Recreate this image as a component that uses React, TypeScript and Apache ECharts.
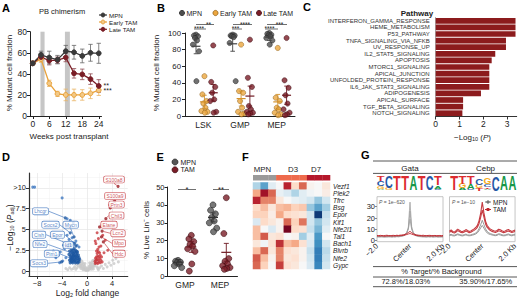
import React, { useEffect, useRef } from 'react';
import * as echarts from 'echarts';

const FONT = '"Liberation Sans", Arial, Helvetica, sans-serif';
const INK = '#222222';

// ---------- A: PB chimerism ----------
const aWeeks = [0, 3, 6, 9, 12, 15, 18, 21, 24];
const aMPN = [50, 58, 55.5, 53.5, 61.5, 60.5, 57, 60, 59.5];
const aMPNErr = [0.8, 3.5, 6, 4, 5.5, 6.5, 6.5, 8, 9.5];
const aEarly = [50, 54, 31, 21, 20, 20, 20, 21.5, 24.5];
const aEarlyErr = [0.8, 3, 3, 2.5, 5.5, 5.5, 5, 5, 5];
const aLate = [50, 56, 52.5, 53, 55.5, 40.5, 39.5, 35, 28.5];
const aLateErr = [0.8, 3, 4, 3, 4, 4.5, 5, 5, 6];
const aTamStart = [2.8, 11.7];
const aTamEnd = [4.3, 13.5];
const aXTicks = [0, 6, 12, 18, 24];

// ---------- B: compartments ----------
const bCats = ['LSK', 'GMP', 'MEP'];
const bMPN = [
  [98, 97, 96, 94, 91, 86, 78, 42],
  [98, 97, 97, 96, 95, 88, 42],
  [100, 99, 98, 97, 96, 94, 91, 86],
];
const bEarly = [
  [48, 26, 18, 15, 10, 6, 5, 4],
  [86, 30, 28, 18, 10, 5, 3, 2],
  [82, 22, 18, 10, 8, 4, 2, 1],
];
const bLate = [
  [85, 41, 35, 28, 20, 18, 5, 4],
  [92, 46, 35, 12, 8, 5, 4, 3, 2],
  [94, 43, 34, 25, 15, 8, 4, 2, 1],
];
const bMPNMean = [84, 87, 95];
const bMPNErr = [9, 9, 4];
const bEarlyMean = [17, 21, 17];
const bEarlyErr = [8, 9, 9];
const bLateMean = [28, 24, 25];
const bLateErr = [10, 12, 11];

// ---------- C: pathways ----------
const cPathways = [
  'INTERFERON_GAMMA_RESPONSE', 'HEME_METABOLISM', 'P53_PATHWAY', 'TNFA_SIGNALING_VIA_NFKB',
  'UV_RESPONSE_UP', 'IL2_STAT5_SIGNALING', 'APOPTOSIS', 'MTORC1_SIGNALING', 'APICAL_JUNCTION',
  'UNFOLDED_PROTEIN_RESPONSE', 'IL6_JAK_STAT3_SIGNALING', 'ADIPOGENESIS', 'APICAL_SURFACE',
  'TGF_BETA_SIGNALING', 'NOTCH_SIGNALING',
];
const cLogP = [3.35, 3.35, 3.35, 2.95, 2.95, 2.5, 2.35, 2.25, 2.25, 2.25, 2.25, 1.9, 1.15, 1.15, 1.12];
const cTicks = [0, 1, 2, 3];

// ---------- D: volcano ----------
const volcGray = [
  [-0.1, 0.05], [0.1, 0.08], [0.2, 0.15], [-0.3, 0.12], [0.35, 0.2], [-0.45, 0.25], [0.5, 0.3], [-0.6, 0.35],
  [0.65, 0.4], [-0.75, 0.3], [0.8, 0.5], [-0.9, 0.55], [0.95, 0.45], [-1.0, 0.7], [1.05, 0.65], [-1.1, 0.5],
  [1.15, 0.8], [-1.2, 0.85], [1.25, 0.6], [-1.3, 0.9], [1.3, 0.95], [-1.4, 0.6], [1.4, 1.1], [-1.5, 1.0],
  [-0.2, 0.3], [0.25, 0.4], [-0.5, 0.5], [0.55, 0.6], [-0.8, 0.7], [0.85, 0.8], [-1.0, 0.3], [1.0, 0.25],
  [-0.65, 0.15], [0.7, 0.2], [-1.6, 0.4], [1.6, 0.5], [-1.7, 0.8], [1.7, 0.3], [-1.8, 0.2], [1.8, 0.15],
  [-2.0, 0.5], [2.0, 0.4], [-2.2, 0.3], [2.3, 0.6], [-2.5, 0.2], [2.6, 0.3], [-2.8, 0.4], [2.9, 0.8],
  [-3.1, 0.15], [3.2, 0.5], [3.5, 1.0], [3.8, 0.7], [4.1, 1.3], [4.3, 0.9], [4.6, 1.5], [5.0, 1.1],
  [-3.4, 0.3], [-0.4, 0.6], [0.45, 0.7], [-0.9, 0.9], [1.1, 1.2], [-1.15, 1.15], [1.2, 1.35], [-1.3, 1.25],
  [0.0, 0.2], [-0.15, 0.4], [0.3, 0.55], [-0.55, 0.8], [0.6, 0.9], [-0.7, 1.0], [0.75, 1.05], [-1.45, 1.35],
  [1.5, 1.4], [-1.6, 1.2], [1.65, 1.0], [-0.35, 0.9], [0.4, 1.0], [-0.85, 1.2], [0.9, 1.25],
];
const volcBlueCore = [
  [-2.7, 1.0], [-2.5, 1.1], [-2.3, 1.0], [-2.1, 1.2], [-1.9, 1.0], [-1.7, 1.1], [-1.5, 1.0], [-1.3, 1.1],
  [-2.6, 1.4], [-2.4, 1.5], [-2.2, 1.4], [-2.0, 1.6], [-1.8, 1.4], [-1.6, 1.5], [-1.4, 1.3], [-2.7, 1.8],
  [-2.5, 1.9], [-2.3, 1.7], [-2.1, 1.9], [-1.9, 1.8], [-1.7, 1.9], [-1.5, 1.7], [-2.6, 2.2], [-2.4, 2.3],
  [-2.2, 2.1], [-2.0, 2.3], [-1.8, 2.2], [-1.6, 2.1], [-2.5, 2.6], [-2.3, 2.5], [-2.1, 2.7], [-1.9, 2.5],
  [-1.7, 2.4], [-2.8, 1.3], [-2.9, 2.0], [-1.2, 1.4], [-1.4, 1.9], [-1.3, 1.6], [-1.55, 2.3], [-2.8, 2.4],
  [-2.0, 1.3], [-2.4, 1.2], [-1.8, 1.7], [-2.2, 1.8], [-2.6, 1.6],
];
const volcBlueSpread = [
  [-3.0, 2.9], [-2.7, 3.2], [-3.3, 3.0], [-2.2, 3.4], [-1.6, 3.1], [-1.3, 2.9], [-3.6, 2.7], [-3.8, 3.1],
  [-2.9, 3.8], [-2.4, 4.0], [-1.8, 3.6], [-3.2, 4.3], [-2.6, 5.4], [-2.2, 5.8], [-3.2, 6.3], [-2.7, 6.1],
  [-4.0, 8.8], [-8.7, 10.1], [-8.4, 10.1], [-4.3, 2.3], [-4.6, 1.9], [-5.0, 1.6], [-3.9, 1.2], [-3.4, 1.6],
  [-4.4, 1.0], [-5.4, 2.4],
];
const volcRed = [
  [1.3, 0.9], [1.5, 1.0], [1.7, 0.9], [1.9, 1.1], [2.1, 1.0], [1.4, 1.3], [1.6, 1.4], [1.8, 1.3],
  [2.0, 1.5], [2.2, 1.3], [1.5, 1.7], [1.7, 1.8], [1.9, 1.7], [2.1, 1.9], [1.6, 2.1], [1.8, 2.3],
  [2.0, 2.2], [1.7, 2.6], [1.9, 2.9], [1.5, 2.4], [2.3, 1.7], [2.4, 1.1], [1.35, 1.55], [1.25, 1.15],
  [1.8, 3.9], [2.9, 3.7], [2.5, 4.3], [1.6, 4.6], [1.4, 3.3], [2.2, 3.0], [3.3, 2.5], [2.7, 2.2], [1.3, 3.6],
];
const volcBlueNames = ['Lhcgr', 'Socs2', 'Mycn', 'Cish', 'Epor', 'Nfe2', 'Id1', 'Pim1', 'Socs3'];
const volcBlueLab = [[-3.5, 6.4], [-2.7, 4.6], [-2.1, 4.1], [-2.5, 3.1], [-2.0, 3.3], [-2.2, 2.1], [-1.8, 3.0], [-2.5, 1.5], [-4.1, 1.1]];
const volcRedNames = ['S100a8', 'S100a9', 'Prtn3', 'Chil3', 'Elane', 'Lcn2', 'Mpo', 'Hdc'];
const volcRedLab = [[4.95, 10.2], [4.4, 8.4], [3.7, 7.6], [3.0, 6.3], [2.0, 5.3], [2.4, 4.8], [2.3, 4.1], [2.6, 3.5]];
const dXTicks = [-8, -4, 0, 4];
const dXMinor = [-6, -2, 2, 6];
const dYTicks = [0, 2.5, 5, 7.5, 10];
const dYMinor = [1.25, 3.75, 6.25, 8.75, 11.25];

// ---------- E: Lin- cells ----------
const eCats = ['GMP', 'MEP'];
const eMPN = [[9, 8.5, 8, 7.6, 7, 6, 5], [40, 37, 35, 33, 31, 30, 27, 25]];
const eTAM = [[23, 21, 19.5, 18, 17, 15.5, 14, 7, 3], [44, 24, 10, 8.5, 7, 6, 5, 4.5, 4]];
const eMPNMean = [8, 33];
const eMPNErr = [1.5, 2.5];
const eTAMMean = [16.5, 13.5];
const eTAMErr = [3, 5];

// ---------- F: heatmap ----------
const fGenes = ['Vezf1', 'Plek2', 'Tfrc', 'Bsg', 'Epor', 'Klf1', 'Nfe2l1', 'Tal1', 'Bach1', 'Blvrb', 'Nfe2', 'Gypc'];
const fGroups = ['MPN', 'MPN', 'MPN', 'D3', 'D3', 'D3', 'D3', 'D7', 'D7', 'D7'];
const fZ = [
  [-0.8, -1.4, -0.3, 0.0, 2.0, 0.5, 1.5, 0.1, 0.0, 0.3],
  [1.0, 2.2, 1.5, -0.2, -0.4, -0.8, -0.3, -0.1, 0.0, 0.2],
  [2.0, 1.3, 1.3, 0.3, 0.0, -0.2, -0.3, -0.5, -1.0, -0.5],
  [0.5, 0.8, 0.3, 0.8, 0.9, 0.6, 0.7, -1.0, -1.4, -0.9],
  [0.6, 0.6, 0.2, 1.0, 0.5, 0.4, 0.3, -0.5, -2.5, -0.6],
  [-0.4, 0.5, 0.3, 0.1, 1.5, 0.6, 1.4, -0.5, -1.0, -0.5],
  [0.8, 0.0, -0.4, 0.1, 2.5, 0.5, 0.4, -0.6, -1.2, -0.3],
  [0.8, 1.6, 0.3, 0.4, 0.0, 0.1, -0.9, -0.3, -1.5, 0.0],
  [0.3, -0.1, 0.4, 1.9, 0.8, 1.0, 0.4, -0.4, -1.6, -0.5],
  [0.8, 1.5, 0.3, 1.3, 0.4, 0.3, 0.1, -0.6, -1.8, -0.7],
  [1.6, 0.8, 0.1, 1.3, 0.3, 0.4, 0.1, -0.5, -1.8, -0.6],
  [1.5, 0.6, 0.0, 1.8, 0.4, 0.3, 0.0, -0.4, -1.7, -0.5],
];

// ---------- G: motif profiles ----------
const gPos = Array.from({ length: 41 }, (_, i) => String(i));
const gataMPN = [
  [3.6, 3.4, 3.7, 3.5, 3.3, 3.6, 3.4, 3.7, 3.5, 3.4, 3.6, 3.5, 3.8, 3.6, 3.9, 4.1, 4.5, 5.2, 7.0, 12.0, 34.0, 12.5, 7.2, 5.1, 4.4, 4.0, 3.8, 3.6, 3.7, 3.5, 3.4, 3.6, 3.5, 3.7, 3.4, 3.6, 3.5, 3.3, 3.6, 3.4, 3.5],
  [3.2, 3.3, 3.1, 3.4, 3.2, 3.0, 3.3, 3.2, 3.4, 3.1, 3.3, 3.2, 3.5, 3.4, 3.6, 3.8, 4.2, 4.8, 6.4, 10.5, 26.0, 10.8, 6.5, 4.7, 4.1, 3.7, 3.5, 3.4, 3.2, 3.3, 3.1, 3.4, 3.2, 3.3, 3.1, 3.2, 3.4, 3.2, 3.1, 3.3, 3.2],
  [3.9, 4.0, 3.8, 4.1, 3.9, 3.8, 4.0, 4.1, 3.9, 3.8, 4.0, 4.1, 4.2, 4.1, 4.3, 4.5, 4.9, 5.6, 7.2, 10.2, 19.0, 10.0, 7.0, 5.5, 4.8, 4.4, 4.2, 4.0, 4.1, 3.9, 3.8, 4.0, 4.1, 3.9, 4.0, 3.8, 3.9, 4.1, 4.0, 3.8, 3.9],
];
const gataTAM = [
  [4.6, 4.4, 4.7, 4.5, 4.3, 4.6, 4.8, 4.5, 4.4, 4.6, 4.7, 4.5, 4.8, 4.6, 4.9, 5.0, 5.2, 5.6, 6.2, 7.2, 8.2, 7.1, 6.1, 5.5, 5.1, 4.9, 4.7, 4.6, 4.8, 4.5, 4.4, 4.6, 4.7, 4.5, 4.4, 4.6, 4.5, 4.3, 4.6, 4.4, 4.5],
  [4.1, 4.2, 4.0, 4.3, 4.1, 3.9, 4.2, 4.1, 4.3, 4.0, 4.2, 4.1, 4.3, 4.2, 4.4, 4.5, 4.7, 5.0, 5.4, 5.9, 6.3, 5.8, 5.3, 4.9, 4.6, 4.4, 4.3, 4.2, 4.0, 4.1, 4.3, 4.1, 4.0, 4.2, 4.1, 4.3, 4.0, 4.2, 4.1, 4.0, 4.2],
];
const cebpMPN = [
  [5.2, 5.6, 5.0, 4.8, 5.4, 6.0, 5.5, 5.0, 4.9, 5.3, 5.8, 5.2, 4.9, 5.1, 5.6, 6.0, 6.8, 8.0, 10.5, 14.0, 18.0, 14.2, 10.4, 8.1, 6.9, 6.2, 5.7, 5.3, 5.0, 5.4, 6.1, 5.8, 5.2, 4.9, 5.1, 5.6, 5.9, 5.3, 5.0, 5.4, 5.7],
  [4.5, 4.9, 4.3, 4.2, 4.7, 5.3, 4.8, 4.4, 4.2, 4.6, 5.1, 4.5, 4.3, 4.5, 4.9, 5.3, 5.9, 6.9, 8.8, 11.2, 13.5, 11.0, 8.6, 6.8, 5.9, 5.4, 5.0, 4.6, 4.4, 4.7, 5.4, 5.0, 4.5, 4.3, 4.4, 4.9, 5.2, 4.6, 4.3, 4.7, 5.0],
];
const cebpTAM = [
  [8.6, 9.4, 8.2, 7.6, 8.8, 10.2, 9.3, 8.4, 8.0, 8.7, 9.8, 8.9, 8.1, 8.5, 9.5, 10.4, 11.6, 13.5, 17.5, 24.0, 34.0, 24.5, 17.2, 13.4, 11.5, 10.2, 9.4, 8.8, 8.3, 9.0, 10.1, 9.6, 8.7, 8.1, 8.6, 9.4, 9.9, 8.9, 8.2, 8.8, 9.3],
  [7.5, 8.3, 7.2, 6.7, 7.7, 8.9, 8.1, 7.3, 7.0, 7.6, 8.5, 7.8, 7.1, 7.4, 8.3, 9.1, 10.2, 11.8, 15.0, 20.5, 27.0, 20.8, 14.8, 11.7, 10.1, 8.9, 8.2, 7.7, 7.2, 7.9, 8.8, 8.4, 7.6, 7.1, 7.5, 8.2, 8.6, 7.8, 7.2, 7.7, 8.1],
];
const gYTicks = [0, 10, 20, 30];
const gataLogo: any[] = [
  [['A', 0.12], ['G', 0.18], ['C', 0.3], ['T', 0.3]],
  [['G', 0.15], ['C', 0.8]],
  [['T', 1]], [['T', 1]], [['A', 1]], [['T', 1]], [['C', 0.95]],
  [['C', 0.1], ['A', 0.2], ['T', 0.6]],
];
const cebpLogo: any[] = [
  [['T', 1]],
  [['A', 0.15], ['G', 0.3], ['T', 0.5]],
  [['C', 0.1], ['A', 0.3], ['T', 0.55]],
  [['T', 0.15], ['G', 0.25], ['C', 0.4]],
  [['A', 0.12], ['T', 0.1], ['C', 0.2], ['G', 0.45]],
  [['C', 0.95]], [['A', 1]], [['A', 1]],
];

// ---------- styles / layout ----------
const C_MPN = '#3a3a3a';
const C_EARLY = '#E9A23B';
const C_LATE = '#7A1E26';
const jitter = [0, -1, 1, -0.5, 0.5, -1.5, 1.5, 0.2, -0.8];
const blueLabPos = [[40.5, 211.3], [50.5, 224.7], [70.7, 224.7], [39, 234.7], [57.5, 234.7], [40, 244.2], [68.3, 245.2], [51.7, 253.7], [39, 263.3]];
const redLabPos = [[114, 179.5], [115, 196], [116.5, 204.5], [116.5, 215.5], [109, 224.7], [118, 233.3], [119, 243.3], [119, 253.7]];

function errRender(color: string, meanHalf: number, capHalf: number, lw: number) {
  return (params: any, api: any) => {
    const x = api.value(0), m = api.value(1), e = api.value(2);
    const c = api.coord([x, m]);
    const t = api.coord([x, m + e]);
    const b = api.coord([x, Math.max(m - e, 0)]);
    const st = { stroke: color, lineWidth: lw, fill: 'none' };
    const kids: any[] = [
      { type: 'line', shape: { x1: t[0], y1: t[1], x2: b[0], y2: b[1] }, style: st },
      { type: 'line', shape: { x1: t[0] - capHalf, y1: t[1], x2: t[0] + capHalf, y2: t[1] }, style: st },
      { type: 'line', shape: { x1: b[0] - capHalf, y1: b[1], x2: b[0] + capHalf, y2: b[1] }, style: st },
    ];
    if (meanHalf > 0) kids.push({ type: 'line', shape: { x1: c[0] - meanHalf, y1: c[1], x2: c[0] + meanHalf, y2: c[1] }, style: { stroke: color, lineWidth: lw + 0.3 } });
    return { type: 'group', children: kids };
  };
}

function swarm(groups: number[][], offset: number, spread: number) {
  const out: number[][] = [];
  groups.forEach((vals, c) => vals.forEach((v, i) => out.push([c + 0.5 + offset + jitter[i % jitter.length] * spread, v])));
  return out;
}

function vAxis(grid: number, min: number, max: number, o: any = {}) {
  return {
    type: 'value', gridIndex: grid, min, max, interval: o.interval,
    show: o.show !== false,
    axisLine: { show: o.line !== false, onZero: false, lineStyle: { color: o.lineColor || INK, width: o.lineWidth || 1 } },
    axisTick: { show: o.tick !== false, length: o.tickLen || 3, customValues: o.ticks, lineStyle: { color: o.lineColor || INK, width: 1 } },
    axisLabel: {
      show: o.label !== false, customValues: o.labels || o.ticks, fontSize: o.fs || 8, color: INK, fontFamily: FONT,
      margin: o.margin ?? 3, formatter: o.fmt, rotate: o.rotate || 0,
    },
    splitLine: { show: !!o.split, lineStyle: { color: o.splitColor || '#e5e5e5', width: o.splitWidth || 0.7 } },
  };
}

function T(x: number, y: number, text: string, o: any = {}) {
  return {
    type: 'text', x, y, rotation: o.rot || 0, silent: true,
    style: {
      text, fontFamily: o.family || FONT, fontSize: o.fs || 8, fill: o.fill || INK,
      align: o.align || 'left', verticalAlign: 'middle', lineHeight: o.lh,
      fontWeight: o.bold ? 'bold' : 'normal', fontStyle: o.italic ? 'italic' : 'normal', rich: o.rich,
    },
  };
}
function L(x1: number, y1: number, x2: number, y2: number, stroke = INK, lw = 0.8) {
  return { type: 'line', silent: true, shape: { x1, y1, x2, y2 }, style: { stroke, lineWidth: lw } };
}
function Cc(cx: number, cy: number, r: number, fill: string, stroke: string, lw = 0.6) {
  return { type: 'circle', silent: true, shape: { cx, cy, r }, style: { fill, stroke, lineWidth: lw } };
}

const LOGO_COL: any = { A: '#169848', C: '#2757a6', G: '#f5ac1c', T: '#dc2b2f' };
const LOGO_ADV: any = { A: 0.722, C: 0.722, G: 0.778, T: 0.611 };
function logo(stacks: any[], x0: number, x1: number, bottom: number, H: number) {
  const out: any[] = [];
  const colW = (x1 - x0) / stacks.length;
  const fs = 10;
  stacks.forEach((st: any[], i: number) => {
    let cum = 0;
    st.forEach(([ch, h]: any) => {
      const hp = h * H;
      out.push({
        type: 'text', silent: true, x: x0 + (i + 0.5) * colW, y: bottom - cum - hp / 2,
        scaleX: (colW * 0.95) / (LOGO_ADV[ch] * fs), scaleY: hp / (0.716 * fs),
        style: { text: ch, fontFamily: FONT, fontWeight: 'bold', fontSize: fs, fill: LOGO_COL[ch], align: 'center', verticalAlign: 'middle' },
      });
      cum += hp;
    });
  });
  return out;
}

function buildOption() {
  const grid = [
    { left: 30, top: 31.7, width: 71.5, height: 84.3 }, // 0 A
    { left: 185, top: 33, width: 110, height: 83 }, // 1 B
    { left: 435.7, top: 17.5, width: 81, height: 99 }, // 2 C
    { left: 29, top: 173, width: 98.75, height: 103 }, // 3 D
    { left: 167.5, top: 187, width: 70, height: 89.5 }, // 4 E
    { left: 253, top: 182.5, width: 77, height: 86.5 }, // 5 F heat
    { left: 253, top: 175, width: 77, height: 5.5 }, // 6 F groups
    { left: 377, top: 196.7, width: 66, height: 45, show: true, borderColor: '#b5b5b5', borderWidth: 0.8 }, // 7 G1
    { left: 449.5, top: 196.7, width: 67, height: 45, show: true, borderColor: '#b5b5b5', borderWidth: 0.8 }, // 8 G2
  ];

  const catHidden = (g: number, data: any[]) => ({ type: 'category', gridIndex: g, data, show: false });
  const gX = (g: number, showLab: boolean) => ({
    type: 'category', gridIndex: g, data: gPos, boundaryGap: false,
    axisLine: { show: false }, axisTick: { show: false },
    axisLabel: {
      show: showLab, interval: (i: number) => i % 20 === 0, rotate: 45, fontSize: 7.5, fontFamily: FONT, color: INK, margin: 3,
      formatter: (v: string, i: number) => (i === 0 ? '\u22122.0' : i === 20 ? 'Center' : '2.0 Kb'),
    },
    splitLine: { show: false },
  });

  const xAxis: any[] = [
    vAxis(0, -1, 25, { ticks: aXTicks, fs: 8.5 }), // 0
    { type: 'category', gridIndex: 1, data: bCats, axisLine: { show: true, lineStyle: { color: INK, width: 1 } }, axisTick: { alignWithLabel: true, length: 3, lineStyle: { color: INK } }, axisLabel: { fontSize: 8.5, color: INK, fontFamily: FONT, margin: 4 } }, // 1
    { type: 'value', gridIndex: 1, min: 0, max: 3, show: false }, // 2
    vAxis(2, 0, 3.4, { ticks: cTicks, fs: 8.5, lineColor: '#333' }), // 3
    vAxis(3, -9.3, 6.5, { ticks: dXTicks, fs: 7.5, split: true, lineColor: '#333', lineWidth: 1.2, fmt: (v: number) => (v < 0 ? '\u2212' + Math.abs(v) : String(v)) }), // 4
    vAxis(3, -9.3, 6.5, { ticks: dXMinor, line: false, tick: false, label: false, split: true, splitColor: '#f1f1f1', splitWidth: 0.5 }), // 5
    { type: 'category', gridIndex: 4, data: eCats, axisLine: { show: true, lineStyle: { color: INK, width: 1 } }, axisTick: { alignWithLabel: true, length: 3, lineStyle: { color: INK } }, axisLabel: { fontSize: 8.5, color: INK, fontFamily: FONT, margin: 4 } }, // 6
    { type: 'value', gridIndex: 4, min: 0, max: 2, show: false }, // 7
    catHidden(5, fGroups.map((_, i) => i)), // 8
    catHidden(6, fGroups.map((_, i) => i)), // 9
    gX(7, true), // 10
    gX(8, true), // 11
  ];

  const yAxis: any[] = [
    vAxis(0, 0, 80, { interval: 20, fs: 8.5 }), // 0
    vAxis(1, 0, 100, { interval: 20, fs: 7.8, margin: 4 }), // 1
    {
      type: 'category', gridIndex: 2, data: cPathways, inverse: true,
      axisLine: { show: true, lineStyle: { color: '#999', width: 0.8 } }, axisTick: { show: false },
      axisLabel: { interval: 0, fontSize: 6, color: '#333', fontFamily: '"Liberation Sans Narrow", "Arial Narrow", ' + FONT, margin: 6 },
    }, // 2
    vAxis(3, -0.6, 11.8, { ticks: dYTicks, fs: 7.5, split: true, lineColor: '#333', lineWidth: 1.2, fmt: (v: number) => (v === 10 ? '>10' : String(v)) }), // 3
    vAxis(3, -0.6, 11.8, { ticks: dYMinor, line: false, tick: false, label: false, split: true, splitColor: '#f1f1f1', splitWidth: 0.5 }), // 4
    vAxis(4, 0, 50, { interval: 10, fs: 7.5 }), // 5
    {
      type: 'category', gridIndex: 5, data: fGenes, inverse: true, position: 'right',
      axisLine: { show: false }, axisTick: { show: false },
      axisLabel: { interval: 0, fontSize: 6.6, fontStyle: 'italic', color: INK, fontFamily: FONT, margin: 3 },
    }, // 6
    catHidden(6, ['g']), // 7
    vAxis(7, -0.9, 38.8, { ticks: gYTicks, fs: 7.5, line: false, tickLen: 2, lineColor: '#888', margin: 2 }), // 8
    vAxis(8, -0.9, 38.8, { ticks: gYTicks, line: false, tick: false, label: false }), // 9
  ];

  const series: any[] = [];

  // ---- A ----
  series.push({
    type: 'custom', xAxisIndex: 0, yAxisIndex: 0, z: 1, silent: true,
    data: aTamStart.map((s, i) => [s, aTamEnd[i]]),
    encode: { x: [0, 1] },
    renderItem: (p: any, api: any) => {
      const a = api.coord([api.value(0), 80]);
      const b = api.coord([api.value(1), 0]);
      return { type: 'rect', shape: { x: a[0], y: a[1], width: b[0] - a[0], height: b[1] - a[1] }, style: { fill: '#c6c6c6' } };
    },
  });
  const aSets = [
    { name: 'Early TAM', v: aEarly, e: aEarlyErr, c: C_EARLY, fill: '#f3c987', ec: '#eab566' },
    { name: 'Late TAM', v: aLate, e: aLateErr, c: C_LATE, fill: C_LATE, ec: '#8e4a50' },
    { name: 'MPN', v: aMPN, e: aMPNErr, c: C_MPN, fill: C_MPN, ec: '#666' },
  ];
  aSets.forEach((s) => {
    series.push({
      type: 'custom', xAxisIndex: 0, yAxisIndex: 0, z: 2, silent: true,
      data: aWeeks.map((w, i) => [w, s.v[i], s.e[i]]), encode: { x: 0, y: 1 },
      renderItem: errRender(s.ec, 0, 2.2, 0.8),
    });
  });
  aSets.forEach((s) => {
    series.push({
      type: 'line', name: s.name, xAxisIndex: 0, yAxisIndex: 0, z: 3,
      data: aWeeks.map((w, i) => [w, s.v[i]]),
      symbol: 'circle', symbolSize: 4.8,
      lineStyle: { color: s.c, width: 1.3 },
      itemStyle: { color: s.fill, borderColor: s.c, borderWidth: 1 },
    });
  });

  // ---- B ----
  const bSets = [
    { vals: bMPN, mean: bMPNMean, err: bMPNErr, off: -0.2, fill: '#4d4d4d', stroke: '#1e1e1e', ec: '#444' },
    { vals: bEarly, mean: bEarlyMean, err: bEarlyErr, off: 0.03, fill: '#EBA63F', stroke: '#8a5a14', ec: '#d3922c' },
    { vals: bLate, mean: bLateMean, err: bLateErr, off: 0.27, fill: '#7a1d27', stroke: '#3a0a10', ec: '#6e1a22' },
  ];
  bSets.forEach((s) => {
    series.push({
      type: 'scatter', xAxisIndex: 2, yAxisIndex: 1, z: 3,
      data: swarm(s.vals, s.off, 0.055), symbolSize: 5.2,
      itemStyle: { color: s.fill, borderColor: s.stroke, borderWidth: 0.6 },
    });
  });
  bSets.forEach((s) => {
    series.push({
      type: 'custom', xAxisIndex: 2, yAxisIndex: 1, z: 4, silent: true,
      data: s.mean.map((m, c) => [c + 0.5 + s.off, m, s.err[c]]), encode: { x: 0, y: 1 },
      renderItem: errRender(s.ec, 4.5, 2.3, 0.9),
    });
  });

  // ---- C ----
  series.push({
    type: 'bar', xAxisIndex: 3, yAxisIndex: 2, data: cLogP, barCategoryGap: '14%',
    itemStyle: { color: '#8c1b1d' },
  });

  // ---- D ----
  series.push({ type: 'scatter', xAxisIndex: 4, yAxisIndex: 3, data: volcGray, symbolSize: 3, itemStyle: { color: '#c9c9c9' }, z: 2, silent: true });
  series.push({ type: 'scatter', xAxisIndex: 4, yAxisIndex: 3, data: volcBlueCore, symbolSize: 3.3, itemStyle: { color: '#1c56a0' }, z: 3, silent: true });
  series.push({ type: 'scatter', xAxisIndex: 4, yAxisIndex: 3, data: volcBlueSpread, symbolSize: 3, itemStyle: { color: '#3f78c0' }, z: 3, silent: true });
  series.push({ type: 'scatter', xAxisIndex: 4, yAxisIndex: 3, data: volcRed, symbolSize: 3, itemStyle: { color: '#c8373c' }, z: 3, silent: true });
  const labSeries = (names: string[], pts: number[][], pos: number[][], col: string, dot: string) => ({
    type: 'scatter', xAxisIndex: 4, yAxisIndex: 3, z: 5, symbolSize: 3.2,
    data: pts.map((p, i) => ({ value: p, name: names[i] })),
    itemStyle: { color: dot },
    label: {
      show: true, formatter: '{b}', fontSize: 5, fontFamily: FONT, color: col, backgroundColor: '#ffffff',
      borderColor: col, borderWidth: 0.6, borderRadius: 1.5, padding: [1, 1.5, 0.5, 1.5],
    },
    labelLine: { show: true, lineStyle: { color: col, width: 0.6 } },
    labelLayout: (params: any) => ({ x: pos[params.dataIndex][0], y: pos[params.dataIndex][1], align: 'center', verticalAlign: 'middle' }),
  });
  series.push(labSeries(volcBlueNames, volcBlueLab, blueLabPos, '#2a66b8', '#1c56a0'));
  series.push(labSeries(volcRedNames, volcRedLab, redLabPos, '#c0272d', '#9b1b22'));

  // ---- E ----
  const eSets = [
    { vals: eMPN, mean: eMPNMean, err: eMPNErr, off: -0.2, fill: '#555555', stroke: '#1e1e1e', ec: '#333' },
    { vals: eTAM, mean: eTAMMean, err: eTAMErr, off: 0.18, fill: '#7a1d27', stroke: '#3a0a10', ec: '#6e1a22' },
  ];
  eSets.forEach((s) => {
    series.push({
      type: 'scatter', xAxisIndex: 7, yAxisIndex: 5, z: 3,
      data: swarm(s.vals, s.off, 0.07), symbolSize: 6,
      itemStyle: { color: s.fill, borderColor: s.stroke, borderWidth: 0.7 },
    });
  });
  eSets.forEach((s) => {
    series.push({
      type: 'custom', xAxisIndex: 7, yAxisIndex: 5, z: 4, silent: true,
      data: s.mean.map((m, c) => [c + 0.5 + s.off, m, s.err[c]]), encode: { x: 0, y: 1 },
      renderItem: errRender(s.ec, 5, 2.5, 0.9),
    });
  });

  // ---- F ----
  const heatIdx = series.length;
  const heatData: number[][] = [];
  fZ.forEach((row, r) => row.forEach((v, c) => heatData.push([c, r, v])));
  series.push({ type: 'heatmap', xAxisIndex: 8, yAxisIndex: 6, data: heatData, itemStyle: { borderWidth: 0 }, silent: true });
  const grpColor: any = { MPN: '#9a9a9a', D3: '#ee6a4c', D7: '#b5182b' };
  series.push({
    type: 'custom', xAxisIndex: 9, yAxisIndex: 7, silent: true,
    data: fGroups.map((g, i) => [i, 0]),
    encode: { x: 0, y: 1 },
    renderItem: (p: any, api: any) => {
      const c = api.coord([api.value(0), 0]);
      const sz = api.size([1, 1]);
      return { type: 'rect', shape: { x: c[0] - sz[0] / 2, y: c[1] - sz[1] / 2, width: sz[0] + 0.3, height: sz[1] }, style: { fill: grpColor[fGroups[p.dataIndex]] } };
    },
  });

  // ---- G ----
  const gLine = (xi: number, yi: number, d: number[], color: string, op: number, w: number) => ({
    type: 'line', xAxisIndex: xi, yAxisIndex: yi, data: d, showSymbol: false, silent: true,
    lineStyle: { color, width: w, opacity: op }, z: 3,
  });
  gataMPN.forEach((d) => series.push(gLine(10, 8, d, '#9d9d9d', 0.85, 0.9)));
  gataTAM.forEach((d) => series.push(gLine(10, 8, d, '#c0272d', 0.9, 1)));
  cebpMPN.forEach((d) => series.push(gLine(11, 9, d, '#8f8f8f', 0.9, 1)));
  cebpTAM.forEach((d) => series.push(gLine(11, 9, d, '#c0272d', 0.9, 1.1)));

  // ---- graphic annotations ----
  const g: any[] = [];
  [['A', 2, 7.5], ['B', 157, 7.5], ['C', 303, 7], ['D', 2, 156.5], ['E', 156.5, 156.5], ['F', 242, 156.5], ['G', 361, 155]].forEach(([t, x, y]: any) =>
    g.push(T(x, y, t, { fs: 11, bold: true, fill: '#000' })));

  // A texts
  g.push(T(62, 11.7, 'PB chimerism', { fs: 7.5, align: 'center' }));
  g.push(T(9.5, 73, '% Mutant cell fraction', { fs: 8, align: 'center', rot: Math.PI / 2 }));
  g.push(T(69, 136.5, 'Weeks post transplant', { fs: 8, align: 'center' }));
  const aLeg = [['MPN', C_MPN, C_MPN, 15], ['Early TAM', C_EARLY, '#f3c987', 22], ['Late TAM', C_LATE, C_LATE, 29.3]];
  aLeg.forEach(([t, c, f, y]: any) => {
    g.push(L(99, y, 107, y, c, 1.2));
    g.push(Cc(103, y, 2, f, c, 0.9));
    g.push(T(109, y, t, { fs: 6.2 }));
  });
  g.push(T(103.5, 87.9, '**\n***', { fs: 7, lh: 5.8 }));

  // B texts
  g.push(T(156, 73, '% Mutant cell fraction', { fs: 8, align: 'center', rot: Math.PI / 2 }));
  const bLeg = [['MPN', '#4d4d4d', '#1e1e1e', 182, 186.5], ['Early TAM', '#EBA63F', '#8a5a14', 215.5, 220], ['Late TAM', '#7a1d27', '#3a0a10', 259, 263.3]];
  bLeg.forEach(([t, f, s, mx, tx]: any) => {
    g.push(Cc(mx, 13, 2.6, f, s, 0.7));
    g.push(T(tx, 13, t, { fs: 7 }));
  });
  const brackets = [
    [196, 214, 24.5, '**', 208.5], [194, 206, 29, '****', 199],
    [233, 252, 24.5, '****', 245], [232, 242, 29, '***', 235.5],
    [267, 287, 24.5, '***', 279.5], [265, 278, 29, '****', 269.5],
  ];
  brackets.forEach(([x1, x2, y, s, cx]: any) => {
    g.push(L(x1, y, x2, y, '#333', 0.7));
    g.push(T(cx, y - 0.3, s, { fs: 6.5, align: 'center' }));
  });

  // C texts
  g.push(T(417, 13, 'Pathway', { fs: 8, bold: true, align: 'center' }));
  g.push(T(472.5, 137, '{a|\u2212Log}{s|10}{a| (}{i|P}{a|)}', {
    fs: 8, align: 'center',
    rich: {
      a: { fontSize: 8, fontFamily: FONT, fill: INK },
      s: { fontSize: 5.5, fontFamily: FONT, fill: INK, padding: [4, 0, 0, 0] },
      i: { fontSize: 8, fontFamily: FONT, fontStyle: 'italic', fill: INK },
    },
  }));

  // D texts
  g.push(T(10, 227.5, '{a|\u2212Log}{s|10}{a| (}{i|P}{s|adj}{a|)}', {
    fs: 8, align: 'center', rot: Math.PI / 2,
    rich: {
      a: { fontSize: 8.5, fontFamily: FONT, fill: INK },
      s: { fontSize: 5.5, fontFamily: FONT, fill: INK, padding: [4, 0, 0, 0] },
      i: { fontSize: 8.5, fontFamily: FONT, fontStyle: 'italic', fill: INK },
    },
  }));
  g.push(T(87.5, 293.3, '{a|Log}{s|2}{a| fold change}', {
    fs: 8, align: 'center',
    rich: {
      a: { fontSize: 8.5, fontFamily: FONT, fill: INK },
      s: { fontSize: 5.5, fontFamily: FONT, fill: INK, padding: [4, 0, 0, 0] },
    },
  }));

  // E texts
  g.push(T(146, 230, '% Live Lin\u207B cells', { fs: 8, align: 'center', rot: Math.PI / 2 }));
  g.push(Cc(175, 162, 3, '#555555', '#1e1e1e', 0.7));
  g.push(T(180.5, 162, 'MPN', { fs: 7 }));
  g.push(Cc(175, 169.8, 3, '#7a1d27', '#3a0a10', 0.7));
  g.push(T(180.5, 169.8, 'TAM', { fs: 7 }));
  g.push(L(178, 189.5, 196, 189.5, '#333', 0.7));
  g.push(T(187, 189.2, '*', { fs: 7.5, align: 'center' }));
  g.push(L(213, 189.5, 229, 189.5, '#333', 0.7));
  g.push(T(221, 189.2, '**', { fs: 7.5, align: 'center' }));

  // F texts
  g.push(T(262.5, 169, 'MPN', { fs: 7.8, align: 'center' }));
  g.push(T(293, 169, 'D3', { fs: 7.8, align: 'center' }));
  g.push(T(316, 169, 'D7', { fs: 7.8, align: 'center' }));

  // G texts
  g.push(L(373, 161, 517, 161, '#444', 0.9));
  g.push(T(410, 168.5, 'Gata', { fs: 8, align: 'center' }));
  g.push(T(485.5, 168.5, 'Cebp', { fs: 8, align: 'center' }));
  g.push(L(373, 173.4, 517, 173.4, '#444', 0.9));
  logo(gataLogo, 376.5, 442, 190.5, 15).forEach((e) => g.push(e));
  logo(cebpLogo, 450, 516.5, 190.5, 15).forEach((e) => g.push(e));
  g.push(T(379, 201.7, '{i|P}{a| = 1e\u2212620}', { fs: 5, rich: { i: { fontSize: 5, fontStyle: 'italic', fontFamily: FONT, fill: '#555' }, a: { fontSize: 5, fontFamily: FONT, fill: '#555' } } }));
  g.push(T(452, 201.7, '{i|P}{a| = 1e\u221210}', { fs: 5, rich: { i: { fontSize: 5, fontStyle: 'italic', fontFamily: FONT, fill: '#555' }, a: { fontSize: 5, fontFamily: FONT, fill: '#555' } } }));
  g.push(L(485, 202, 491, 202, '#777', 1));
  g.push(Cc(488, 202, 1.4, '#777', '#777', 0.5));
  g.push(T(493, 202, 'MPN', { fs: 6.5 }));
  g.push(L(485, 209.5, 491, 209.5, '#c0272d', 1));
  g.push({ type: 'rect', silent: true, shape: { x: 486.6, y: 208, width: 2.8, height: 3 }, style: { fill: '#c0272d' } });
  g.push(T(493, 209.5, 'TAM', { fs: 6.5 }));
  g.push(L(373, 266.6, 517, 266.6, '#444', 0.9));
  g.push(T(441.5, 271.8, '% Target/% Background', { fs: 7.5, align: 'center' }));
  g.push(L(373, 277, 517, 277, '#444', 0.9));
  g.push(T(405.8, 281.8, '72.8%/18.03%', { fs: 7.5, align: 'center' }));
  g.push(T(485.8, 281.8, '35.90%/17.65%', { fs: 7.5, align: 'center' }));
  g.push(L(373, 286.7, 517, 286.7, '#444', 0.9));

  return {
    animation: false,
    backgroundColor: '#ffffff',
    textStyle: { fontFamily: FONT },
    grid,
    xAxis,
    yAxis,
    visualMap: [{
      type: 'continuous', show: false, seriesIndex: [heatIdx], dimension: 2, min: -2.6, max: 2.6,
      inRange: { color: ['#0b2f6b', '#2166ac', '#4393c3', '#92c5de', '#d1e5f0', '#f7f7f7', '#fddbc7', '#f4a582', '#d6604d', '#b2182b', '#67001f'] },
    }],
    series,
    graphic: { elements: g },
  };
}

export default function App() {
  const ref = useRef<HTMLDivElement>(null);
  useEffect(() => {
    if (!ref.current) return;
    const chart = echarts.init(ref.current, null, { renderer: 'svg', width: 520, height: 302 });
    chart.setOption(buildOption() as any);
    return () => chart.dispose();
  }, []);
  return <div ref={ref} style={{ position: 'absolute', left: 0, top: 0, width: 520, height: 302, background: '#fff' }} />;
}
